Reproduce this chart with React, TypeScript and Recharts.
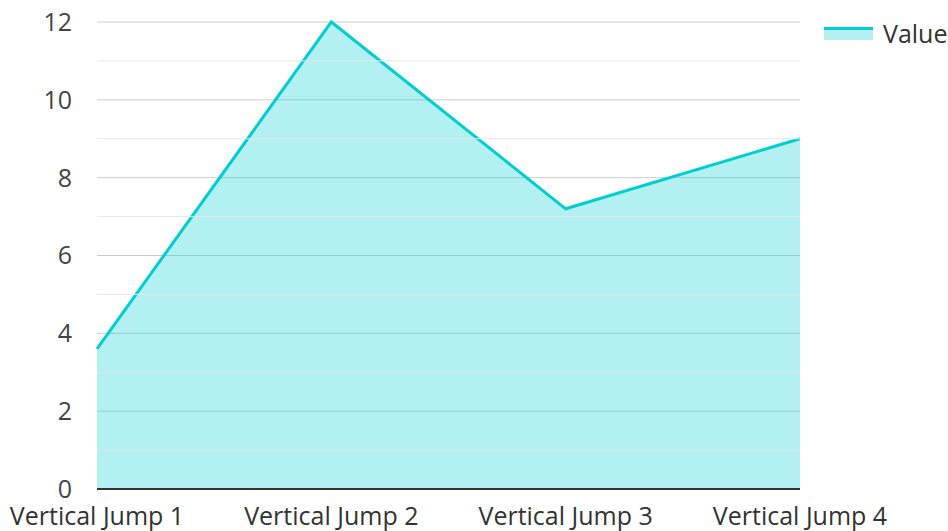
import React from 'react';
import { AreaChart, Area, XAxis, YAxis, CartesianGrid, Legend, ReferenceLine } from 'recharts';

const categories = ['Vertical Jump 1', 'Vertical Jump 2', 'Vertical Jump 3', 'Vertical Jump 4'];
const values = [3.6, 12, 7.2, 9];
const yTicks = [0, 2, 4, 6, 8, 10, 12];
const minorTicks = [1, 3, 5, 7, 9, 11];

const data = categories.map((name, i) => ({ name, Value: values[i] }));

const FONT = '"Open Sans", "Noto Sans", sans-serif';
const LINE = '#00CED1';

const LegendContent = () => (
  <div style={{ display: 'flex', alignItems: 'center', fontFamily: FONT, fontSize: 25, color: '#333', whiteSpace: 'nowrap', lineHeight: '32px' }}>
    <svg width={50} height={16} style={{ marginRight: 9 }}>
      <rect x={0} y={4} width={49} height={11} fill={LINE} fillOpacity={0.3} />
      <rect x={0} y={2} width={49} height={3} fill={LINE} />
    </svg>
    <span>Value</span>
  </div>
);

export default function App() {
  return (
    <div style={{ position: 'absolute', left: 0, top: 0 }}>
      <AreaChart width={948} height={531} data={data} margin={{ top: 22, right: 148, bottom: 0, left: 0 }}>
        <CartesianGrid vertical={false} stroke="#cccccc" strokeWidth={1} />
        {minorTicks.map((t) => (
          <ReferenceLine key={t} y={t} stroke="#e6e6e6" strokeWidth={1} />
        ))}
        <XAxis
          dataKey="name"
          height={42}
          tickSize={0}
          tickMargin={18}
          axisLine={{ stroke: '#333', strokeWidth: 2 }}
          tick={{ fill: '#333', fontSize: 25, fontFamily: FONT }}
          interval={0}
        />
        <YAxis
          width={97}
          domain={[0, 12]}
          ticks={yTicks}
          tickSize={0}
          tickMargin={25}
          axisLine={false}
          tick={{ fill: '#444', fontSize: 25, fontFamily: FONT }}
        />
        <Legend
          layout="horizontal"
          verticalAlign="middle"
          align="center"
          content={<LegendContent />}
          wrapperStyle={{ top: 17, left: 824, width: 'auto', height: 'auto' }}
        />
        <Area
          type="linear"
          dataKey="Value"
          stroke={LINE}
          strokeWidth={3}
          fill={LINE}
          fillOpacity={0.3}
          isAnimationActive={false}
          dot={false}
          activeDot={false}
        />
      </AreaChart>
    </div>
  );
}
